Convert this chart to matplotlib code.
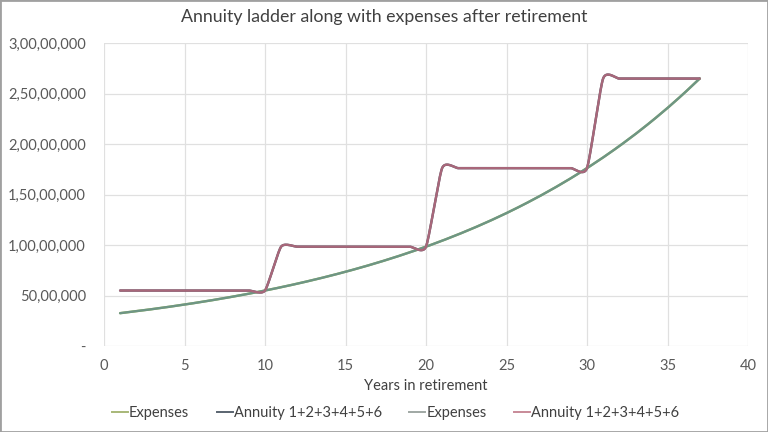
import numpy as np
import matplotlib
matplotlib.use("Agg")
import matplotlib.pyplot as plt
from matplotlib.ticker import FuncFormatter
from matplotlib.patches import Rectangle

plt.rcParams['font.family'] = ['Lato', 'DejaVu Sans']

years = list(range(1, 38))
# Expenses (rupees, lakhs)
expenses_lakh = [32.50, 34.45, 36.52, 38.71, 41.03, 43.49, 46.10, 48.87, 51.80, 54.91,
                 58.20, 61.69, 65.40, 69.32, 73.48, 77.89, 82.56, 87.52, 92.77, 98.33,
                 104.23, 110.49, 117.11, 124.14, 131.59, 139.49, 147.86, 156.73, 166.13, 176.10,
                 186.66, 197.86, 209.74, 222.32, 235.66, 249.80, 264.79]
annuity_lakh = [54.91] * 10 + [98.33] * 10 + [176.10] * 10 + [264.79] * 7

expenses = [v * 1e5 for v in expenses_lakh]
annuity = [v * 1e5 for v in annuity_lakh]

series_names = ["Expenses", "Annuity 1+2+3+4+5+6", "Expenses", "Annuity 1+2+3+4+5+6"]
series_colors = ["#9BBB59", "#4A5868", "#6E9585", "#A8677A"]
legend_colors = ["#A8B878", "#5A6470", "#A0A8A4", "#C88A98"]
y_ticks = [0, 5e6, 1e7, 1.5e7, 2e7, 2.5e7, 3e7]
x_ticks = [0, 5, 10, 15, 20, 25, 30, 35, 40]


def smooth(x, y, n=30, k=0.1):
    # Excel-like smoothing: cubic Bezier with Catmull-Rom style control points
    x = np.asarray(x, float); y = np.asarray(y, float)
    px = np.concatenate([[x[0]], x, [x[-1]]])
    py = np.concatenate([[y[0]], y, [y[-1]]])
    out_x, out_y = [], []
    t = np.linspace(0, 1, n)
    for i in range(1, len(px) - 2):
        p0 = np.array([px[i], py[i]])
        p3 = np.array([px[i + 1], py[i + 1]])
        p1 = p0 + (np.array([px[i + 1], py[i + 1]]) - np.array([px[i - 1], py[i - 1]])) * k
        p2 = p3 - (np.array([px[i + 2], py[i + 2]]) - np.array([px[i], py[i]])) * k
        b = ((1 - t) ** 3)[:, None] * p0 + (3 * (1 - t) ** 2 * t)[:, None] * p1 + \
            (3 * (1 - t) * t ** 2)[:, None] * p2 + (t ** 3)[:, None] * p3
        out_x.extend(b[:, 0]); out_y.extend(b[:, 1])
    return np.array(out_x), np.array(out_y)


def indian(v, pos=None):
    if v == 0:
        return "-"
    s = str(int(round(v)))
    last3 = s[-3:]
    rest = s[:-3]
    parts = []
    while len(rest) > 2:
        parts.insert(0, rest[-2:])
        rest = rest[:-2]
    if rest:
        parts.insert(0, rest)
    return ",".join(parts + [last3])


fig = plt.figure(figsize=(7.68, 4.32), dpi=100)
ax = fig.add_axes([104 / 768, 1 - 346 / 432, (748 - 104) / 768, (346 - 43) / 432])

data = [expenses, annuity, expenses, annuity]
for name, col, d in zip(series_names, series_colors, data):
    sx, sy = smooth(years, d)
    ax.plot(sx, sy, color=col, lw=1.7, label=name, solid_capstyle='round')

ax.set_xlim(0, 40)
ax.set_ylim(0, 3e7)
ax.set_xticks(x_ticks)
ax.set_yticks(y_ticks)
ax.yaxis.set_major_formatter(FuncFormatter(indian))
ax.grid(True, color="#E0E0E0", lw=0.9)
ax.set_axisbelow(True)
for s in ax.spines.values():
    s.set_visible(False)
ax.tick_params(axis='y', length=0, labelsize=10.5, colors="#595959", pad=13)
ax.tick_params(axis='x', length=0, labelsize=10.5, colors="#595959", pad=9)
ax.set_xlabel("Years in retirement", fontsize=10.5, color="#404040", labelpad=5)

fig.text(0.5, 1 - 17 / 432, "Annuity ladder along with expenses after retirement",
         ha="center", va="center", fontsize=12.8, color="#404040")

handles = [plt.Line2D([], [], color=c, lw=1.4) for c in legend_colors]
fig.legend(handles, series_names, loc="center", bbox_to_anchor=(0.515, 1 - 413 / 432), ncol=4,
           frameon=False, fontsize=10.5, handlelength=1.1, handletextpad=0.05, columnspacing=1.9,
           labelcolor="#404040")

fig.patches.append(Rectangle((0, 0), 1, 1, transform=fig.transFigure, fill=False,
                             edgecolor="#A0A0A0", lw=2))
fig.savefig("out.png", dpi=100)
